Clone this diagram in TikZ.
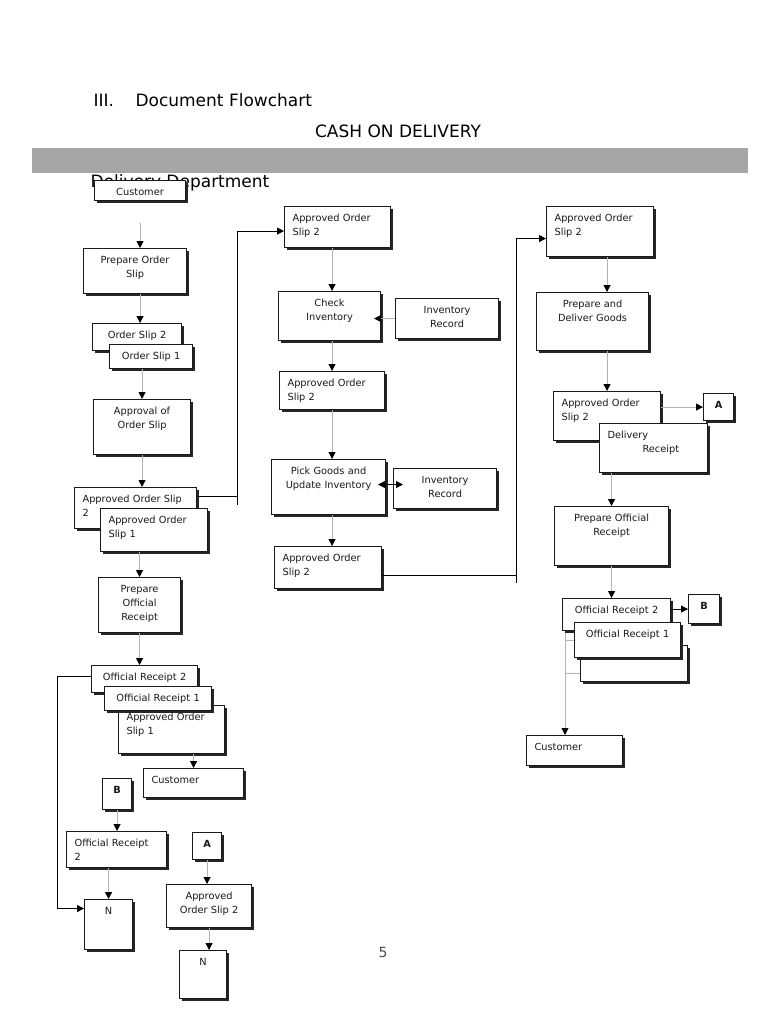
\documentclass[tikz,border=0pt]{standalone}
\usepackage{fontspec}
\setmainfont{DejaVu Sans}
\usetikzlibrary{arrows.meta,shadows}
\definecolor{bandgrey}{HTML}{A6A6A6}
\definecolor{linkgrey}{HTML}{B4B4B4}
\definecolor{boxline}{HTML}{1A1A1A}
\newcommand{\boxsize}{\fontsize{9.8}{14}\selectfont}

\begin{document}
\begin{tikzpicture}[x=1pt, y=-1pt,
    box/.style={draw=boxline, line width=1.1pt, fill=white, anchor=north west,
                inner xsep=8pt, inner ysep=5pt, text height=10pt, align=center,
                font=\boxsize, text=black!90,
                drop shadow={shadow xshift=2pt, shadow yshift=-2pt, opacity=1, fill=black!85}},
    tag/.style={box, font=\boxsize\bfseries},
    flow/.style={-{Triangle[length=7pt, width=7pt, color=black]}, color=linkgrey, line width=0.8pt},
    link/.style={-{Triangle[length=7pt, width=7pt, color=black]}, color=black, line width=0.8pt},
    tap/.style={color=linkgrey, line width=0.8pt},
    both/.style={{Triangle[length=7pt, width=7pt]}-{Triangle[length=7pt, width=7pt]}, line width=1pt},
    head/.style={font=\fontsize{17}{20}\selectfont, anchor=base west}
  ]
  \useasboundingbox (0,0) rectangle (768,1024);
  \fill[white] (0,0) rectangle (768,1024);

  \node[head] (sec) at (90,107) {III.};
  \node[head] (title) at (132,107) {Document Flowchart};
  \node[head, anchor=base] (cod) at (398,138) {CASH ON DELIVERY};
  \fill[bandgrey] (32,148) rectangle (748,173);
  \node[head] (dept) at (87,188) {Delivery Department};

  % left column
  \node[box, text width=75pt, text depth=0pt] (cust1) at (94,180) {Customer};
  \node[box, text width=87pt, text depth=25pt] (pos) at (83,248) {Prepare Order\\Slip};
  \node[box, text width=73pt, text depth=7pt] (os2) at (92,323) {Order Slip 2};
  \node[box, text width=67pt, text depth=4pt] (os1) at (109,344) {Order Slip 1};
  \node[box, text width=81pt, text depth=35pt] (apr) at (93,399) {Approval of\\Order Slip};
  \node[box, text width=106pt, text depth=21pt, align=left] (aos2a) at (74,487) {Approved Order Slip\\2};
  \node[box, text width=91pt, text depth=23pt, align=left] (aos1a) at (100,508) {Approved Order\\Slip 1};
  \node[box, text width=66pt, text depth=35pt] (por) at (98,577) {Prepare\\Official\\Receipt};
  \node[box, text width=90pt, text depth=28pt, align=left] (aos1b) at (118,705) {Approved Order\\Slip 1};
  \node[box, text width=90pt, text depth=7pt] (or2a) at (91,665) {Official Receipt 2};
  \node[box, text width=91pt, text depth=4pt] (or1a) at (104,686) {Official Receipt 1};
  \node[box, text width=84pt, text depth=9pt, align=left] (cust2) at (143,768) {Customer};
  \node[tag, text width=13pt, text depth=11pt] (Ba) at (102,778) {B};
  \node[box, text width=84pt, text depth=16pt, align=left] (or2b) at (66,831) {Official Receipt\\2};
  \node[box, text width=32pt, text depth=30pt] (Na) at (84,899) {N};
  \node[tag, text width=13pt, text depth=7pt] (Aa) at (192,832) {A};
  \node[box, text width=69pt, text depth=23pt] (aos2b) at (166,884) {Approved\\Order Slip 2};
  \node[box, text width=31pt, text depth=28pt] (Nb) at (179,950) {N};

  % middle column
  \node[box, text width=90pt, text depth=21pt, align=left] (aos2c) at (284,206) {Approved Order\\Slip 2};
  \node[box, text width=86pt, text depth=29pt] (chk) at (278,291) {Check\\Inventory};
  \node[box, text width=87pt, text depth=20pt] (ir1) at (395,298) {Inventory\\Record};
  \node[box, text width=89pt, text depth=18pt, align=left] (aos2d) at (279,371) {Approved Order\\Slip 2};
  \node[box, text width=98pt, text depth=35pt] (pick) at (271,459) {Pick Goods and\\Update Inventory};
  \node[box, text width=87pt, text depth=20pt] (ir2) at (393,468) {Inventory\\Record};
  \node[box, text width=91pt, text depth=22pt, align=left] (aos2e) at (274,546) {Approved Order\\Slip 2};

  % right column
  \node[box, text width=91pt, text depth=30pt, align=left] (aos2f) at (546,206) {Approved Order\\Slip 2};
  \node[box, text width=96pt, text depth=38pt] (pdg) at (536,292) {Prepare and\\Deliver Goods};
  \node[box, text width=91pt, text depth=29pt, align=left] (aos2g) at (553,391) {Approved Order\\Slip 2};
  \node[tag, text width=14pt, text depth=7pt] (Ab) at (703,393) {A};
  \node[box, text width=92pt, text depth=29pt, align=left] (dr) at (599,423) {Delivery\\\hspace*{35pt}Receipt};
  \node[box, text width=98pt, text depth=39pt] (por2) at (554,506) {Prepare Official\\Receipt};
  \node[box, text width=92pt, text depth=12pt] (or2c) at (562,598) {Official Receipt 2};
  \node[tag, text width=15pt, text depth=9pt] (Bb) at (688,594) {B};
  \node[box, text width=91pt, text depth=16pt] (hid) at (580,645) {};
  \node[box, text width=90pt, text depth=15pt] (or1c) at (574,622) {Official Receipt 1};
  \node[box, text width=80pt, text depth=10pt, align=left] (cust3) at (526,735) {Customer};

  \node[font=\fontsize{14}{16}\selectfont, text=black!70, anchor=base] (pnum) at (383,957) {5};

  \draw[flow, shorten <=22pt] (cust1.south) -- (cust1.south |- pos.north);
  \draw[flow] (pos.south -| cust1.south) -- (os2.north -| cust1.south);
  \draw[flow] (apr.north |- os1.south) -- (apr.north);
  \draw[flow] (apr.south) -- (apr.south |- aos2a.north);
  \draw[flow] (por.north |- aos1a.south) -- (por.north);
  \draw[flow] (por.south) -- (por.south |- or2a.north);
  \draw[flow] (cust2.north |- aos1b.south) -- (cust2.north);
  \draw[flow] (Ba.south) -- (Ba.south |- or2b.north);
  \draw[flow] (Na.north |- or2b.south) -- (Na.north);
  \draw[flow] (Aa.south) -- (Aa.south |- aos2b.north);
  \draw[flow] (aos2b.south) -- (aos2b.south |- Nb.north);
  \draw[link] ([yshift=3pt]or2a.west) -- ++(-34,0) |- ([yshift=16pt]Na.west);

  \draw[link] ([yshift=12pt]aos2a.east) -- ++(40,0) coordinate (jl) |- ([yshift=-4pt]aos2c.west);
  \draw[line width=0.8pt] (jl) -- ++(0,9);
  \draw[flow] (aos2d.north |- aos2c.south) -- (aos2d.north |- chk.north);
  \draw[flow, shorten >=-7pt] (ir1.west) -- (ir1.west -| chk.east);
  \draw[flow] (aos2d.north |- chk.south) -- (aos2d.north);
  \draw[flow] (aos2d.south) -- (aos2d.south |- pick.north);
  \draw[both, shorten <=-8pt, shorten >=-10pt] ([yshift=4pt]pick.east |- ir2.west) -- ([yshift=4pt]ir2.west);
  \draw[flow] (aos2d.south |- pick.south) -- (aos2d.south |- aos2e.north);
  \draw[link] ([yshift=-8pt]aos2e.east) -- ++(134,0) coordinate (jm) |- ([yshift=-7pt]aos2f.west);
  \draw[line width=0.8pt] (jm) -- ++(0,7);

  \draw[flow] (aos2g.north |- aos2f.south) -- (aos2g.north |- pdg.north);
  \draw[flow] (aos2g.north |- pdg.south) -- (aos2g.north);
  \draw[flow] (aos2g.east |- Ab.west) -- (Ab.west);
  \draw[flow] (por2.north |- dr.south) -- (por2.north);
  \draw[flow] (por2.south) -- (por2.south |- or2c.north);
  \draw[link] (or2c.east |- Bb.west) -- (Bb.west);
  \coordinate (jr) at ([xshift=3pt, yshift=-2pt]or2c.south west);
  \draw[flow] (jr) -- (jr |- cust3.north);
  \draw[tap] (or1c.west) -- (or1c.west -| jr);
  \draw[tap] ([yshift=-10pt]hid.west) -- ++(-15,0);
\end{tikzpicture}
\end{document}
